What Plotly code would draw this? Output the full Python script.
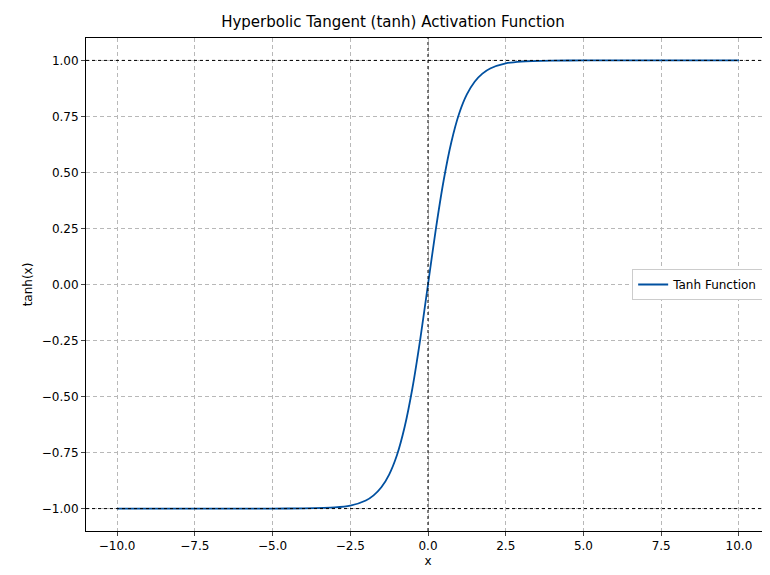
import plotly.graph_objects as go

x_vals = [-10, -7.5, -5, -4, -3, -2.5, -2, -1.75, -1.5, -1.25, -1, -0.75, -0.5, -0.25, 0,
          0.25, 0.5, 0.75, 1, 1.25, 1.5, 1.75, 2, 2.5, 3, 4, 5, 7.5, 10]
y_vals = [-1.0, -1.0, -1.0, -0.999, -0.995, -0.987, -0.964, -0.941, -0.905, -0.848, -0.762, -0.635, -0.462, -0.245, 0.0,
          0.245, 0.462, 0.635, 0.762, 0.848, 0.905, 0.941, 0.964, 0.987, 0.995, 0.999, 1.0, 1.0, 1.0]
x_ticks = [-10, -7.5, -5, -2.5, 0, 2.5, 5, 7.5, 10]
y_ticks = [-1, -0.75, -0.5, -0.25, 0, 0.25, 0.5, 0.75, 1]

fig = go.Figure()
fig.add_trace(go.Scatter(x=x_vals, y=y_vals, mode="lines", name="Tanh Function", showlegend=True,
                         line=dict(color="#0050a0", width=1.8, shape="spline", smoothing=0.6)))
for yv in [1, -1]:
    fig.add_hline(y=yv, line=dict(color="black", width=1, dash="dot"))
fig.add_vline(x=0, line=dict(color="black", width=1, dash="dot"))

ax = dict(showline=True, linecolor="black", mirror=True, ticks="outside", ticklen=4,
          showgrid=True, gridcolor="#b8b8b8", griddash="4px,3px", zeroline=False, automargin=False,
          tickfont=dict(size=12, color="black"))
fig.update_layout(
    width=770, height=575, plot_bgcolor="white", paper_bgcolor="white",
    font=dict(family="DejaVu Sans", color="black"),
    margin=dict(l=78, r=8, t=30, b=52),
    showlegend=True,
    title=dict(text="Hyperbolic Tangent (tanh) Activation Function", x=0.5, xanchor="center",
               y=0.985, yanchor="top", font=dict(size=15)),
    xaxis=dict(ax, range=[-11, 11], tickvals=x_ticks, ticktext=[f"{v:.1f}".replace("-", "−") for v in x_ticks],
               title=dict(text="x", font=dict(size=12), standoff=4)),
    yaxis=dict(ax, range=[-1.1, 1.1], tickvals=y_ticks, ticktext=[f"{v:.2f}".replace("-", "−") for v in y_ticks],
               title=dict(text="tanh(x)", font=dict(size=12), standoff=6)),
    legend=dict(x=0.99, y=0.5, xanchor="right", yanchor="middle", bordercolor="#cccccc",
                borderwidth=1, bgcolor="white", font=dict(size=12)),
)
fig.write_html("out.html")
